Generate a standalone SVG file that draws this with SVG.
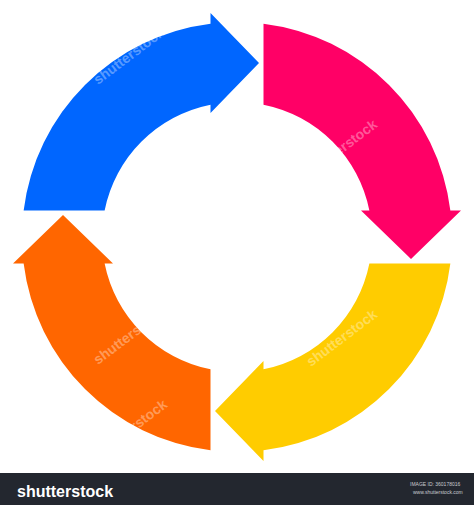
<svg xmlns="http://www.w3.org/2000/svg" width="474" height="505" viewBox="0 0 474 505">
  <defs>
    <style>
      .wm { font-family: "Liberation Sans", Arial, sans-serif; font-weight: bold; font-size: 14px; fill: #ffffff; fill-opacity: 0.35; }
      .logo { font-family: "Liberation Sans", Arial, sans-serif; font-weight: bold; font-size: 16px; fill: #ffffff; }
      .small { font-family: "Liberation Sans", Arial, sans-serif; font-size: 5px; fill: #c8cbd0; }
    </style>
    <path id="arrow" d="M -213.36 -26.5 A 215 215 0 0 1 -26.5 -213.36 L -26.5 -224 L 22 -174 L -26.5 -124 L -26.5 -132.37 A 135 135 0 0 0 -132.37 -26.5 Z"/>
  </defs>
  <rect width="474" height="505" fill="#ffffff"/>
  <g id="connectors"/>
  <g id="arrow-blue">
    <use href="#arrow" transform="translate(237 237)" fill="#0066ff"/>
  </g>
  <g id="arrow-magenta">
    <use href="#arrow" transform="translate(237 237) rotate(90)" fill="#ff0066"/>
  </g>
  <g id="arrow-yellow">
    <use href="#arrow" transform="translate(237 237) rotate(180)" fill="#ffcc00"/>
  </g>
  <g id="arrow-orange">
    <use href="#arrow" transform="translate(237 237) rotate(270)" fill="#ff6600"/>
  </g>
  <g id="watermarks">
    <text class="wm" transform="translate(98 85) rotate(-37)">shutterstock</text>
    <text class="wm" transform="translate(311 177) rotate(-37)">shutterstock</text>
    <text class="wm" transform="translate(311 367) rotate(-37)">shutterstock</text>
    <text class="wm" transform="translate(98 365) rotate(-37)">shutterstock</text>
    <text class="wm" transform="translate(101 457) rotate(-37)">shutterstock</text>
  </g>
  <g id="footer">
    <rect x="0" y="473" width="474" height="32" fill="#23272f"/>
    <text class="logo" x="17" y="497">shutterstock</text>
    <text class="small" x="410" y="486">IMAGE ID: 360178016</text>
    <text class="small" x="413" y="494">www.shutterstock.com</text>
  </g>
</svg>
